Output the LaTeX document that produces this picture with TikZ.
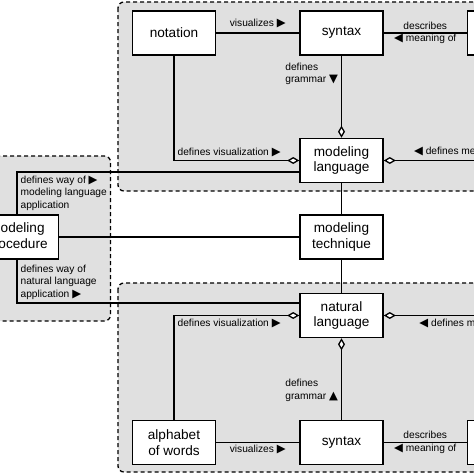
\documentclass[tikz,border=0pt]{standalone}
\usepackage{fontspec}
\setmainfont{Liberation Sans}
\newfontfamily\symfont{DejaVu Sans}
\usetikzlibrary{positioning,arrows.meta}
\definecolor{groupgray}{RGB}{224,224,224}
\newcommand{\rtri}{{\symfont\fontsize{11.5}{12}\selectfont ▶}}
\newcommand{\ltri}{{\symfont\fontsize{11.5}{12}\selectfont ◀}}
\newcommand{\dtri}{{\symfont\fontsize{11.5}{12}\selectfont ▼}}
\newcommand{\utri}{{\symfont\fontsize{11.5}{12}\selectfont ▲}}
\tikzstyle{block} = [draw, line width=1.6pt, fill=white, rectangle, minimum height=44pt, minimum width=83pt, align=center, inner sep=0pt, font=\fontsize{13.6}{15.3}\selectfont]
\tikzstyle{output} = [coordinate]
\tikzstyle{lbl} = [inner sep=3pt, align=left, font=\fontsize{10.2}{12.5}\selectfont]
\tikzstyle{group} = [draw, fill=groupgray, line width=1.3pt, dash pattern=on 4pt off 3pt, rounded corners=6pt]
\tikzstyle{agg} = [arrows={Diamond[fill=white, length=12pt, width=7pt]-}]

\begin{document}
\begin{tikzpicture}[x=1pt, y=-1pt, line width=1.3pt, node distance=167.5pt]
        \useasboundingbox (0,0) rectangle (474,474);
        \clip (0,0) rectangle (474,474);
        % language groups
        \draw [group] (118,2) rectangle (530,191);
        \draw [group] (118,283) rectangle (530,472);
        \draw [group] (-30,156) rectangle (110.5,321);

        \node [block] (mlang) at (341.5,160.5) {modeling\\language};
        \node [block, above of=mlang, node distance=127.5pt] (syntaxT) {syntax};
        \node [block, left of=syntaxT] (notation) {notation};
        \node [block, right of=syntaxT] (semT) {};
        \node [block, below of=mlang, node distance=76.5pt] (mtech) {modeling\\technique};
        \node [block, left of=mtech, node distance=324.5pt] (mproc) {modeling\\procedure};
        \node [block, below of=mtech, node distance=78.5pt] (nlang) {natural\\language};
        \node [block, below of=nlang, node distance=127pt] (syntaxB) {syntax};
        \node [block, left of=syntaxB] (alphabet) {alphabet\\of words};
        \node [block, right of=syntaxB] (semB) {};
        \node [output, right of=mlang, node distance=220pt] (mout) {};
        \node [output, right of=nlang, node distance=220pt] (nout) {};

        \draw (notation) -- node [lbl, above=1pt] {visualizes \rtri} (syntaxT);
        \draw (syntaxT) -- node [lbl, align=center] {describes\\\ltri\ meaning of} (semT);
        \draw [agg] (mlang) -- node [lbl, left, pos=0.78] {defines\\grammar \dtri} (syntaxT);
        \draw [agg] (mlang) -| node [lbl, above right, pos=0.5] {defines visualization \rtri} (notation);
        \draw [agg] (mlang) -- node [lbl, above right, pos=0.15] {\ltri\ defines meaning} (mout);

        \draw (mproc) |- node [lbl, below right, pos=0.5] {defines way of \rtri\\modeling language\\application} ([yshift=-11.5pt]mlang.west);
        \draw (mproc) -- (mtech);
        \draw (mproc) |- node [lbl, above right, pos=0.5] {defines way of\\natural language\\application \rtri} ([yshift=12.5pt]nlang.west);
        \draw (mlang) -- (mtech);
        \draw (mtech) -- (nlang);

        \draw [agg] (nlang) -| node [lbl, below right, pos=0.5] {defines visualization \rtri} (alphabet);
        \draw [agg] (nlang) -- node [lbl, below right, pos=0.18] {\ltri\ defines meaning} (nout);
        \draw [agg] (nlang) -- node [lbl, left, pos=0.64] {defines\\grammar \utri} (syntaxB);
        \draw (alphabet) -- node [lbl, below=-1pt] {visualizes \rtri} (syntaxB);
        \draw (syntaxB) -- node [lbl, align=center] {describes\\\ltri\ meaning of} (semB);
\end{tikzpicture}
\end{document}
